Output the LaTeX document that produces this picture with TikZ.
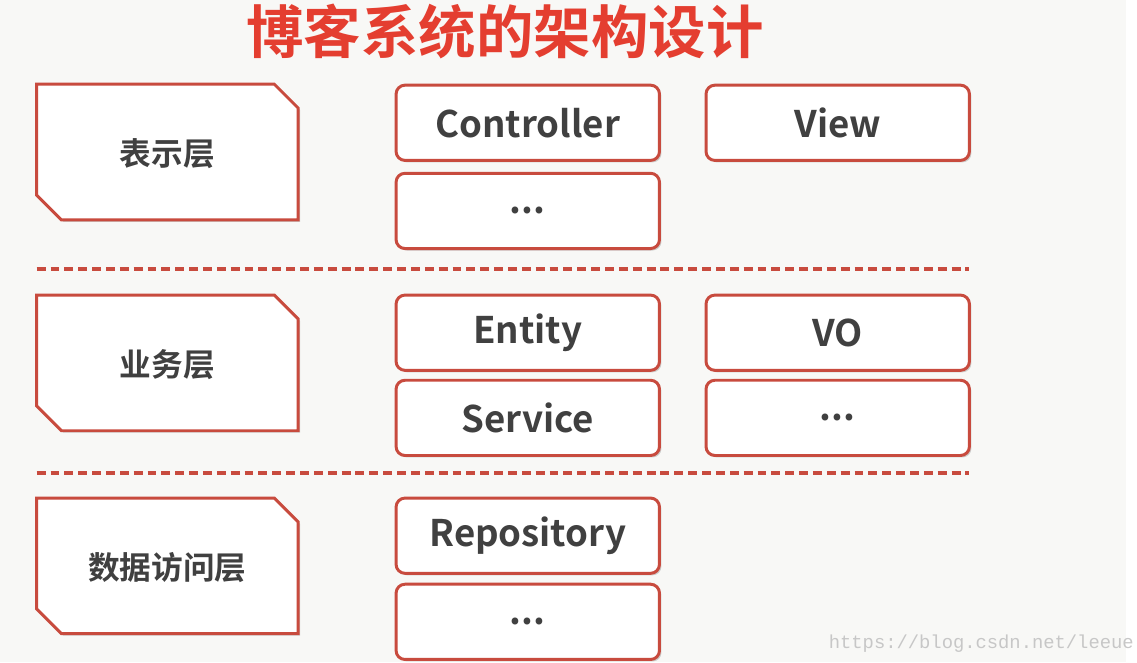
\documentclass[tikz,border=0pt]{standalone}
\usepackage{fontspec}
\setmainfont{Noto Sans CJK SC}
\newfontfamily\cjkbold{Noto Sans CJK SC Bold}
\newfontfamily\wmfont{Liberation Mono}
\usetikzlibrary{shadows}
\definecolor{bordered}{RGB}{200,75,62}
\definecolor{titlered}{RGB}{228,62,48}
\definecolor{textgray}{RGB}{64,64,64}
\definecolor{bgcol}{RGB}{248,248,246}

\begin{document}
\begin{tikzpicture}[
    x=1pt, y=-1pt,
    item/.style={rectangle, draw=bordered, line width=3pt, rounded corners=9pt, fill=white,
      minimum width=266pt, minimum height=76pt, font=\cjkbold\fontsize{37}{42}\selectfont, text=textgray,
      drop shadow={shadow xshift=2pt, shadow yshift=-2pt, opacity=0.35}},
    layer/.style={draw=bordered, line width=3pt, fill=white,
      drop shadow={shadow xshift=2pt, shadow yshift=-2pt, opacity=0.35}},
    label/.style={font=\cjkbold\fontsize{32}{36}\selectfont, text=textgray},
    divider/.style={draw=bordered, line width=4pt, dash pattern=on 9pt off 5pt}
  ]
    \fill[bgcol] (0,0) rectangle (1137,669);

    % Title
    \node[font=\cjkbold\fontsize{58}{64}\selectfont, text=titlered] (title) at (510,32) {博客系统的架构设计};

    % Layers
    \foreach \name/\top/\txt in {present/85/表示层, business/298/业务层, data/503/数据访问层} {
      \draw[layer] (37,\top) -- (277,\top) -- (301,\top+24) -- (301,\top+137)
        -- (62,\top+137) -- (37,\top+112) -- cycle;
      \node[label] (\name) at (169,\top+70) {\txt};
    }

    % Presentation layer
    \node[item] (controller) at (533,124) {Controller};
    \node[item] (view) at (846,124) {View};
    \node[item] (presmore) at (533,213) {...};

    % Business layer
    \node[item] (entity) at (533,336) {Entity};
    \node[item] (vo) at (846,336) {VO};
    \node[item] (service) at (533,422) {Service};
    \node[item] (busmore) at (846,422) {...};

    % Data access layer
    \node[item] (repository) at (533,541) {Repository};
    \node[item] (datamore) at (533,628) {...};

    % Dividers
    \coordinate (d1a) at (37,272); \coordinate (d1b) at (979,272);
    \coordinate (d2a) at (37,478); \coordinate (d2b) at (979,478);
    \draw[divider] (d1a) -- (d1b);
    \draw[divider] (d2a) -- (d2b);

    % Watermark
    \node[font=\wmfont\fontsize{19}{22}\selectfont, text=black!22] (mark) at (991,650) {https://blog.csdn.net/leeue};
\end{tikzpicture}
\end{document}
